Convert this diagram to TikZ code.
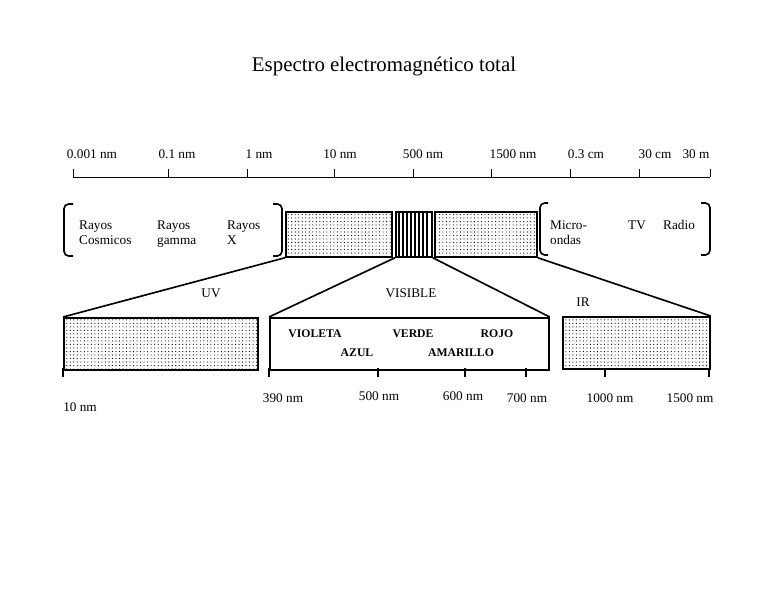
\documentclass[tikz,border=0pt]{standalone}
\usepackage{fontspec}
\setmainfont{Liberation Serif}
\usetikzlibrary{patterns, positioning}
\newcommand{\pxu}{0.03cm}

\begin{document}
\begin{tikzpicture}[
  x=0.03cm, y=-0.03cm,
  band/.style={draw, line width=1.5pt, inner sep=0pt, anchor=north west},
  dotband/.style={band, pattern=dots, pattern color=black},
  zoomline/.style={line width=1.4pt},
  bracket/.style={line width=1.4pt, rounded corners=4pt},
  rulerline/.style={line width=0.6pt},
  tickmark/.style={line width=1.1pt},
  lbl/.style={font=\fontsize{11.3}{12.8}\selectfont, inner sep=0pt},
  grp/.style={lbl, align=left, anchor=north west},
  hue/.style={font=\fontsize{10}{12}\selectfont\bfseries, inner sep=0pt},
]
  \useasboundingbox (0,0) rectangle (768,594);

  \node[font=\fontsize{17.8}{20}\selectfont, inner sep=0pt] (title) at (384,67) {Espectro electromagnético total};

  \draw[rulerline] (73,177) -- (710,177);
  \foreach \x/\lab/\lx in {73/0.001 nm/92, 168/0.1 nm/177, 247/1 nm/259, 334/10 nm/340, 413/500 nm/423,
                          491/1500 nm/513, 570/0.3 cm/586, 639/30 cm/655, 710/30 m/696} {
    \draw[rulerline] (\x,177) -- (\x,169);
    \node[lbl] (top\x) at (\lx,154) {\lab};
  }

  \draw[bracket] (73,204) -- (64,204) -- (64,256) -- (73,256);
  \draw[bracket] (273,204) -- (282,204) -- (282,256) -- (273,256);
  \node[grp] (cosmic) at (79,220.5) {Rayos\\Cosmicos};
  \node[grp] (gamma) at (157,220.5) {Rayos\\gamma};
  \node[grp] (xray) at (227,220.5) {Rayos\\X};

  \draw[bracket] (548,203) -- (540,203) -- (540,255) -- (548,255);
  \draw[bracket] (701,203) -- (710,203) -- (710,255) -- (701,255);
  \node[grp] (micro) at (550,220.5) {Micro-\\ondas};
  \node[grp] (tv) at (628,220.5) {TV};
  \node[grp] (radio) at (663,220.5) {Radio};

  \node[dotband, minimum width=106*\pxu, minimum height=45*\pxu] (uvband) at (285,211) {};
  \node[band, minimum width=36*\pxu, minimum height=45*\pxu] (visband) at (395,211) {};
  \foreach \sx in {399,403,...,427}
    \draw[line width=1.6pt] (\sx,211) -- (\sx,256);
  \node[dotband, minimum width=102*\pxu, minimum height=45*\pxu] (irband) at (434,211) {};

  \node[dotband, minimum width=194*\pxu, minimum height=52*\pxu] (uvzoom) at (63,317) {};
  \node[band, minimum width=279*\pxu, minimum height=52*\pxu] (viszoom) at (269,317) {};
  \node[dotband, minimum width=147*\pxu, minimum height=52*\pxu] (irzoom) at (562,316) {};

  \draw[zoomline] (uvzoom.north west) -- (uvband.south west);
  \draw[zoomline] (viszoom.north west) -- (visband.south west);
  \draw[zoomline] (viszoom.north east) -- (visband.south east);
  \draw[zoomline] (irzoom.north east) -- (irband.south east);

  \node[lbl] (uv) at (211,293) {UV};
  \node[lbl] (visible) at (411,293) {VISIBLE};
  \node[lbl] (ir) at (583,302) {IR};

  \node[hue] (violeta) at (315,334) {VIOLETA};
  \node[hue] (verde) at (413,334) {VERDE};
  \node[hue] (rojo) at (497,334) {ROJO};
  \node[hue] (azul) at (357,353) {AZUL};
  \node[hue] (amarillo) at (461,353) {AMARILLO};

  \foreach \x in {63,269,378,465,526,605,709}
    \draw[tickmark] (\x,368) -- (\x,377);

  \node[lbl] (uvlow) at (80,407) {10 nm};
  \node[lbl] (vis390) at (283,398) {390 nm};
  \node[lbl] (vis500) at (379,396) {500 nm};
  \node[lbl] (vis600) at (463,396) {600 nm};
  \node[lbl] (vis700) at (527,398) {700 nm};
  \node[lbl] (ir1000) at (610,398) {1000 nm};
  \node[lbl] (ir1500) at (690,398) {1500 nm};
\end{tikzpicture}
\end{document}
